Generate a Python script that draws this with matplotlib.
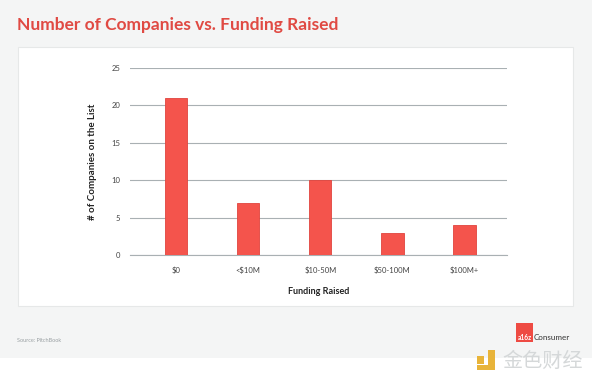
import matplotlib
matplotlib.use("Agg")
import matplotlib.pyplot as plt
from matplotlib.patches import Rectangle

categories = ["$0", "<$10M", "$10-50M", "$50-100M", "$100M+"]
values = [21, 7, 10, 3, 4]
yticks = [0, 5, 10, 15, 20, 25]

W, H = 592, 382
fig = plt.figure(figsize=(W / 100, H / 100), dpi=100)
fig.patch.set_facecolor("white")


def box(x0, y0, x1, y1, **kw):
    """Rectangle in pixel coords measured from top-left."""
    fig.patches.append(Rectangle((x0 / W, 1 - y1 / H), (x1 - x0) / W, (y1 - y0) / H,
                                 transform=fig.transFigure, **kw))


# background gray area and white panel
box(0, 0, W, 358, facecolor="#f4f5f5", edgecolor="none", zorder=0)
box(18, 47, 573, 306, facecolor="white", edgecolor="#e6e8e8", linewidth=0.8, zorder=1)

red = "#f4544c"
ax = fig.add_axes([130 / W, 1 - 255 / H, (507 - 130) / W, (255 - 68) / H])
ax.set_facecolor("none")
ax.set_zorder(2)
x = list(range(len(categories)))
ax.bar(x, values, width=0.31, color=red, edgecolor="#e0443d", linewidth=0.6, zorder=3)
ax.set_xlim(-0.64, 4.59)
ax.set_ylim(0, 25)
ax.set_yticks(yticks)
ax.set_xticks(x)
ax.set_xticklabels(categories)
ax.grid(axis="y", color="#a9b0b3", linewidth=0.8, zorder=0)
for s in ["top", "right", "left"]:
    ax.spines[s].set_visible(False)
ax.spines["bottom"].set_color("#a9b0b3")
ax.spines["bottom"].set_linewidth(0.8)
ax.tick_params(axis="both", length=0, labelsize=5.5, labelcolor="#444444", pad=8)
ax.tick_params(axis="y", pad=7)
for t in ax.get_xticklabels() + ax.get_yticklabels():
    t.set_family("Lato")
ax.set_xlabel("Funding Raised", fontsize=6.5, fontweight="bold", family="Lato",
              color="#222222", labelpad=10)
ax.set_ylabel("# of Companies on the List", fontsize=7, fontweight="bold",
              family="Lato", color="#222222", labelpad=10)

fig.text(17 / W, 1 - 25 / H, "Number of Companies vs. Funding Raised", fontsize=12.5,
         fontweight="bold", family="Lato", color="#e04a43", va="center", ha="left")
fig.text(17 / W, 1 - 340 / H, "Source: PitchBook", fontsize=4, family="Lato",
         color="#9aa0a3", va="center", ha="left")

# a16z logo
box(516, 323, 533, 342, facecolor="#ee4b43", edgecolor="none", zorder=3)
fig.text(524.5 / W, 1 - 337.5 / H, "a16z", fontsize=4.8, family="Lato", fontweight="bold",
         color="white", va="center", ha="center", zorder=4)
fig.text(534 / W, 1 - 338 / H, "Consumer", fontsize=5.8, family="Lato", color="#333333",
         va="center", ha="left", zorder=4)

# watermark
ycol = "#e8b43a"
box(477, 356, 484, 364, facecolor=ycol, edgecolor="none", zorder=3)
box(488, 350, 495, 370, facecolor=ycol, edgecolor="none", zorder=3)
box(477, 365, 495, 370, facecolor=ycol, edgecolor="none", zorder=3)
fig.text(502 / W, 1 - 361 / H, "金色财经", fontsize=14.5, family=["Noto Sans CJK SC", "DejaVu Sans"],
         color="#d5d8d9", va="center", ha="left", zorder=4)

fig.savefig("out.png", dpi=100, facecolor=fig.get_facecolor())
